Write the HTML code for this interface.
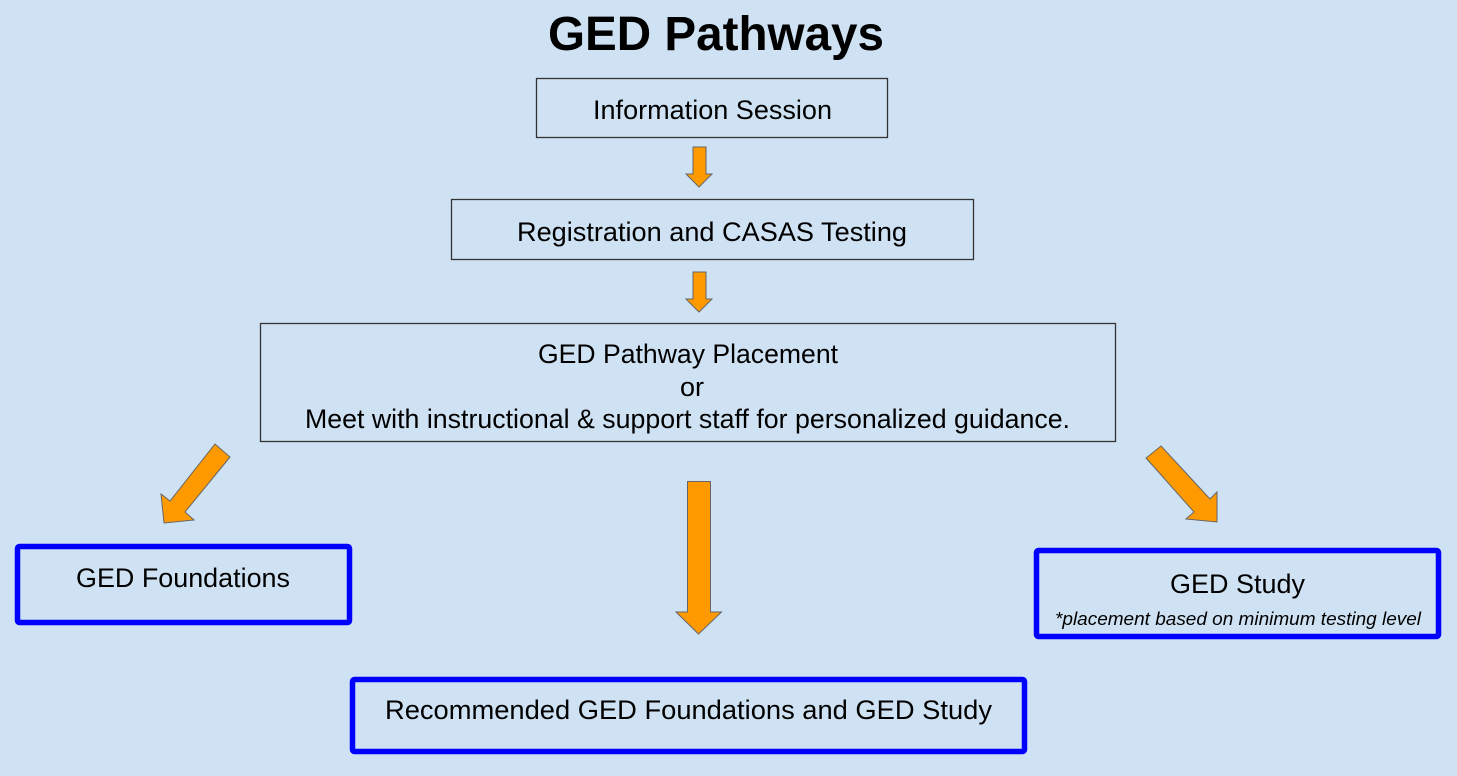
<!DOCTYPE html>
<html>
<head>
<meta charset="utf-8">
<style>
  html, body { margin: 0; padding: 0; background: #cfe2f3; }
  body { width: 1457px; height: 776px; overflow: hidden; }
  svg { display: block; }
  text { font-family: "Liberation Sans", Arial, sans-serif; fill: #000; }
</style>
</head>
<body>
<svg width="1457" height="776" viewBox="0 0 1457 776" xmlns="http://www.w3.org/2000/svg">
  <rect x="0" y="0" width="1457" height="776" fill="#cfe2f3"/>

  <!-- Title -->
  <text x="716" y="50" font-size="48" font-weight="bold" text-anchor="middle" textLength="336" lengthAdjust="spacingAndGlyphs">GED Pathways</text>

  <!-- Information Session -->
  <rect x="536.5" y="78.5" width="351" height="59" fill="none" stroke="#333" stroke-width="1.3"/>
  <text x="712.5" y="119" font-size="27" text-anchor="middle" textLength="239" lengthAdjust="spacingAndGlyphs">Information Session</text>

  <!-- Arrow 1 -->
  <polygon points="693,147 706,147 706,174 712,174 699,187 686,174 693,174" fill="#ff9900" stroke="#666" stroke-width="1"/>

  <!-- Registration -->
  <rect x="451.5" y="199.5" width="522" height="60" fill="none" stroke="#333" stroke-width="1.3"/>
  <text x="712" y="241" font-size="27" text-anchor="middle" textLength="390" lengthAdjust="spacingAndGlyphs">Registration and CASAS Testing</text>

  <!-- Arrow 2 -->
  <polygon points="693,272 706,272 706,299 712,299 699,312 686,299 693,299" fill="#ff9900" stroke="#666" stroke-width="1"/>

  <!-- Placement -->
  <rect x="260.5" y="323.5" width="855" height="118" fill="none" stroke="#333" stroke-width="1.3"/>
  <text x="688" y="363" font-size="27" text-anchor="middle" textLength="300" lengthAdjust="spacingAndGlyphs">GED Pathway Placement</text>
  <text x="692" y="396" font-size="27" text-anchor="middle">or</text>
  <text x="687.5" y="428" font-size="27" text-anchor="middle" textLength="765" lengthAdjust="spacingAndGlyphs">Meet with instructional &amp; support staff for personalized guidance.</text>

  <!-- Left diagonal arrow -->
  <polygon points="215,444 230,457 185,512 194,520 164,523 161,494 170,501" fill="#ff9900" stroke="#666" stroke-width="1"/>

  <!-- Right diagonal arrow -->
  <polygon points="1161,446 1210,499 1217,492 1217,522 1186,519 1194,512 1146,458" fill="#ff9900" stroke="#666" stroke-width="1"/>

  <!-- Center big arrow -->
  <polygon points="687.5,481.5 710.5,481.5 710.5,612 721.5,612 698.5,634 676,612 687.5,612" fill="#ff9900" stroke="#666" stroke-width="1"/>

  <!-- GED Foundations -->
  <rect x="17.5" y="546.5" width="332" height="76" rx="2" fill="none" stroke="#0000ff" stroke-width="5.5"/>
  <text x="183" y="587" font-size="27" text-anchor="middle" textLength="214" lengthAdjust="spacingAndGlyphs">GED Foundations</text>

  <!-- GED Study -->
  <rect x="1036.5" y="550.5" width="402" height="86" rx="2" fill="none" stroke="#0000ff" stroke-width="5.5"/>
  <text x="1237.5" y="593" font-size="27" text-anchor="middle" textLength="135" lengthAdjust="spacingAndGlyphs">GED Study</text>
  <text x="1238" y="625" font-size="18.7" font-style="italic" text-anchor="middle" textLength="366" lengthAdjust="spacingAndGlyphs">*placement based on minimum testing level</text>

  <!-- Recommended -->
  <rect x="352.5" y="679.5" width="672" height="72" rx="2" fill="none" stroke="#0000ff" stroke-width="5.5"/>
  <text x="688.5" y="719" font-size="27" text-anchor="middle" textLength="607" lengthAdjust="spacingAndGlyphs">Recommended GED Foundations and GED Study</text>
</svg>
</body>
</html>
